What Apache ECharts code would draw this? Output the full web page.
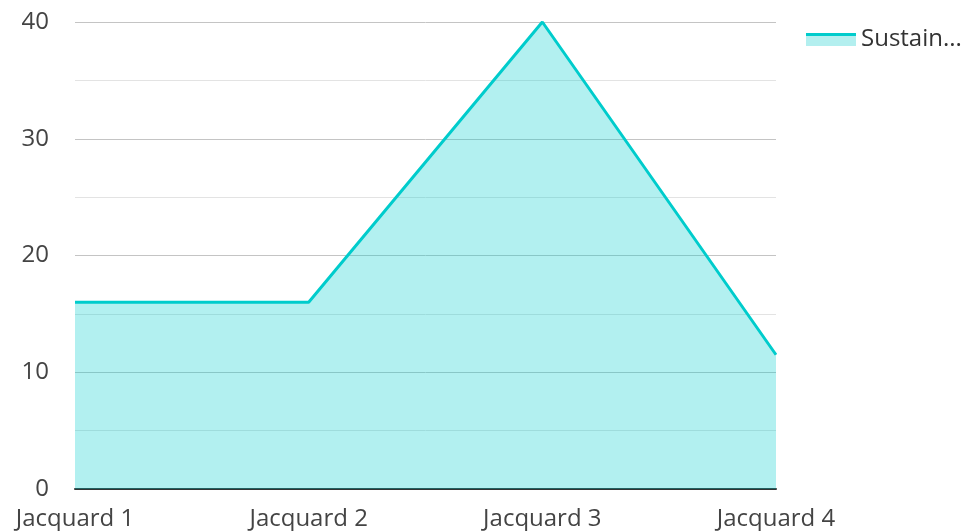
<!DOCTYPE html>
<html>
<head>
<meta charset="utf-8">
<script src="https://cdn.jsdelivr.net/npm/echarts@6/dist/echarts.min.js"></script>
<style>
  html, body { margin: 0; padding: 0; background: #fff; }
  #chart { width: 966px; height: 531px; }
</style>
</head>
<body>
<div id="chart"></div>
<script>
const categories = ['Jacquard 1', 'Jacquard 2', 'Jacquard 3', 'Jacquard 4']
const seriesName = 'Sustainability'
const seriesValues = [16, 16, 40, 11.5]
const yTicks = [0, 10, 20, 30, 40]

const lineColor = '#00cccc'
const font = '"Open Sans", "Noto Sans", sans-serif'

// two-tone legend icon: solid line over a light area
const iconSvg = '<svg xmlns="http://www.w3.org/2000/svg" width="50" height="14">' +
  '<rect x="0" y="3" width="50" height="11" fill="#b3efef"/>' +
  '<rect x="0" y="1" width="50" height="3" fill="#00cccc"/></svg>'
const legendIcon = 'image://data:image/svg+xml;charset=utf-8,' + encodeURIComponent(iconSvg)

const chart = echarts.init(document.getElementById('chart'))
chart.setOption({
  animation: false,
  textStyle: { fontFamily: font },
  grid: { left: 75, right: 190, top: 22, bottom: 42, containLabel: false },
  legend: {
    left: 801,
    top: 22,
    itemWidth: 50,
    itemHeight: 14,
    itemGap: 10,
    icon: legendIcon,
    data: [{ name: seriesName, icon: legendIcon }],
    textStyle: {
      fontFamily: font,
      fontSize: 24,
      color: '#333',
      width: 104,
      overflow: 'truncate',
      ellipsis: '...'
    }
  },
  xAxis: {
    type: 'category',
    boundaryGap: false,
    data: categories,
    axisLine: { lineStyle: { color: '#333', width: 2 } },
    axisTick: { show: false },
    axisLabel: { color: '#444', fontSize: 24, margin: 18, fontFamily: font }
  },
  yAxis: {
    type: 'value',
    min: yTicks[0],
    max: yTicks[yTicks.length - 1],
    interval: 10,
    axisLine: { show: false },
    axisTick: { show: false },
    axisLabel: { color: '#444', fontSize: 24, margin: 26, fontFamily: font },
    splitLine: { lineStyle: { color: '#c4c4c4', width: 1 } },
    minorTick: { show: false, splitNumber: 2 },
    minorSplitLine: { show: true, lineStyle: { color: '#e3e3e3', width: 1 } }
  },
  series: [{
    name: seriesName,
    type: 'line',
    data: seriesValues,
    showSymbol: false,
    symbol: 'none',
    lineStyle: { color: lineColor, width: 3 },
    itemStyle: { color: lineColor },
    areaStyle: { color: lineColor, opacity: 0.3 }
  }]
})
</script>
</body>
</html>
